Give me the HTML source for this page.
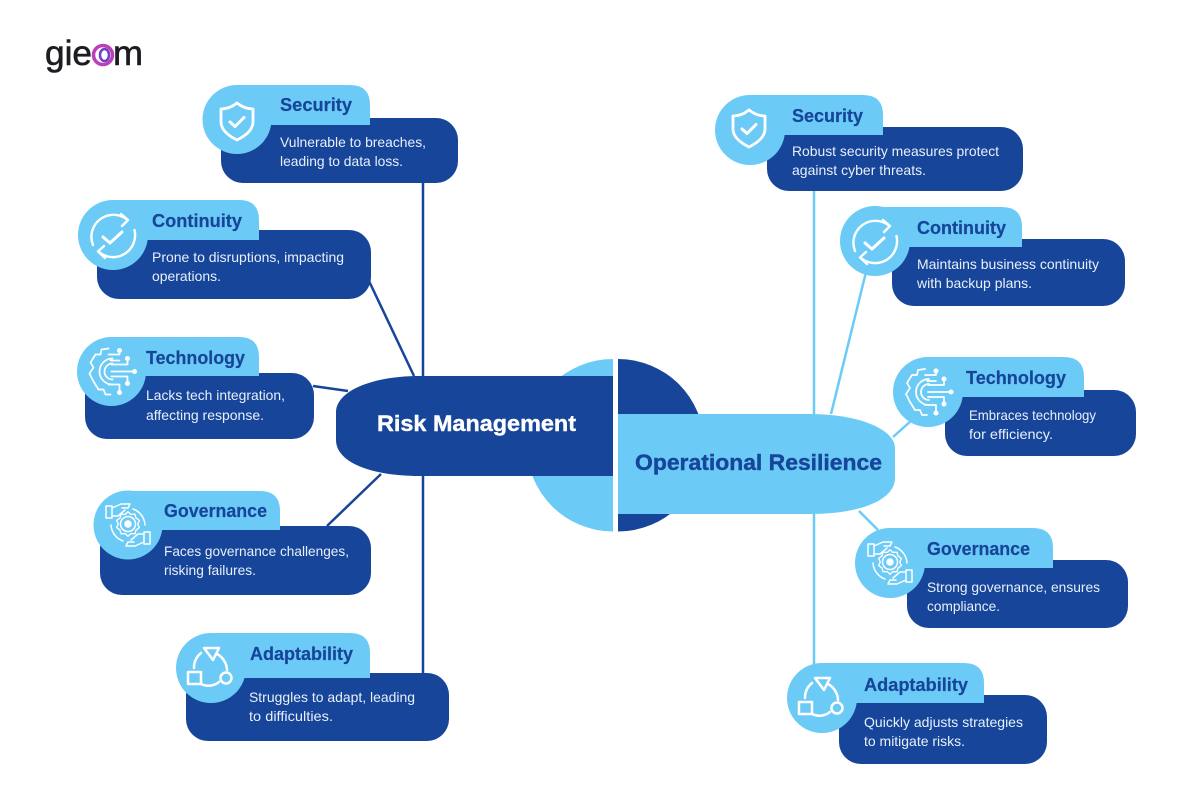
<!DOCTYPE html>
<html lang="en"><head><meta charset="utf-8"><title>Risk Management vs Operational Resilience</title>
<style>
html,body{margin:0;padding:0;background:#fff;width:1200px;height:799px;overflow:hidden}
svg{display:block}
text{font-family:"Liberation Sans",sans-serif}
.t{font-weight:700;font-size:18.500px;fill:#16459a;stroke:#16459a;stroke-width:.2px}
.d{font-size:14px;fill:#e8f0fa}
.i{fill:none;stroke:#fff;stroke-linecap:round;stroke-linejoin:round}
.b{fill:#16459a}.l{fill:#6ccbf6}
</style></head><body>
<svg width="1200" height="799" viewBox="0 0 1200 799" xmlns="http://www.w3.org/2000/svg">
<defs>
<g id="shield" class="i" stroke-width="2.800"><path d="M0-18 C5-14 11-12 16-12 V1 C16 9 8 15 0 19 C-8 15-16 9-16 1 V-12 C-11-12-5-14 0-18Z"/><path d="M-7 1 L-2 5.500 L7-3.500" stroke-width="3"/></g>
<g id="cycle" class="i" stroke-width="2.400"><path d="M-20 9 A22 22 0 0 1 14-16.500 M21.500-6 A22 22 0 0 1-14 16"/><path d="M8-22 L15-16 L9-10 M-8 22 L-15 15.500 L-9 10"/><path d="M-10 1 L-3 7 L9-4" stroke-width="3"/></g>
<g id="tech" class="i" stroke-width="1.700"><path d="M-3-23 L-10-22 L-11-17 L-16-17 L-21-9 L-18-4 L-22 2 L-18 10 L-13 18 L-8 18 L-6 23 L-1 23"/><path d="M1-13 A13 13 0 0 0 1 13 M1-8 A8 8 0 0 0 1 8"/><path d="M-3-17 H8 V-21 M-1-11 H8 M0-7 H16 V-13 M0 0 H23 M0 5 H16 V12 M-3 13 H8 V21"/><circle cx="8" cy="-21" r="1.700" fill="#fff"/><circle cx="16" cy="-13" r="1.700" fill="#fff"/><circle cx="23" cy="0" r="1.700" fill="#fff"/><circle cx="16" cy="12" r="1.700" fill="#fff"/><circle cx="8" cy="21" r="1.700" fill="#fff"/></g>
<g id="hand"><path d="M-22-19 H-16 V-7 H-22Z M-16-17 L-7-21 H2 L0-17 H-6 M-16-9 H-10 L-3-15"/><path d="M-17 0 A18 18 0 0 0-5 16"/></g>
<g id="gov" class="i" stroke-width="1.500"><circle cx="0" cy="-1" r="3" fill="#fff"/><circle cx="0" cy="-1" r="7.500"/><path transform="translate(0 -1) scale(.88)" d="M0-14 L3-11 L8-11 L9-7 L13-4 L11 0 L13 4 L9 7 L8 11 L3 11 L0 14 L-3 11 L-8 11 L-9 7 L-13 4 L-11 0 L-13-4 L-9-7 L-8-11 L-3-11Z"/><use href="#hand"/><use href="#hand" transform="rotate(180)"/></g>
<g id="adapt" class="i" stroke-width="2.500"><path d="M-7-20 H8 L2-8Z"/><rect x="-23" y="4" width="13" height="12"/><circle cx="15" cy="10" r="5.500"/><path d="M-10-15 A19 19 0 0 0-17 0 M6-14 A19 19 0 0 1 16 2 M-10 16 A17 17 0 0 0 8 14"/></g>
</defs>

<!-- connectors -->
<g fill="none" stroke="#16459a" stroke-width="2.500">
<path d="M423 183V376M423 476V673M369 281L414 376M313 386L348 391M381 474L327 526"/>
</g>
<g fill="none" stroke="#6ccbf6" stroke-width="2.500">
<path d="M814 191V414M814 514V665M866 272L831 414M912 420L893 437M859 511L878 530"/>
</g>

<!-- centre -->
<path class="l" d="M613 359 A86 86 0 0 0 613 531.500Z"/>
<path class="b" d="M618 359 A86 86 0 0 1 618 531.500Z"/>
<path class="b" d="M613 376H420C370 376 336 392 336 412V440C336 462 370 476 420 476H613Z"/>
<path class="l" d="M618 414H810C860 414 895 430 895 448V478C895 500 860 514 810 514H618Z"/>
<text x="377" y="431" font-size="22" font-weight="700" fill="#fff" stroke="#fff" stroke-width=".4" textLength="199" lengthAdjust="spacingAndGlyphs">Risk Management</text>
<text x="635" y="470" font-size="22" font-weight="700" fill="#16459a" stroke="#16459a" stroke-width=".4" textLength="247" lengthAdjust="spacingAndGlyphs">Operational Resilience</text>

<!-- LEFT Security -->
<rect class="b" x="221" y="118" width="237" height="65" rx="22"/>
<path class="l" d="M237 85H350Q370 85 370 105V125H237Z"/><circle class="l" cx="237" cy="119.500" r="34.500"/>
<use href="#shield" x="237" y="121"/>
<text class="t" x="280" y="111" textLength="72" lengthAdjust="spacingAndGlyphs">Security</text>
<text class="d" x="280" y="147" textLength="146" lengthAdjust="spacingAndGlyphs">Vulnerable to breaches,</text>
<text class="d" x="280" y="166" textLength="123" lengthAdjust="spacingAndGlyphs">leading to data loss.</text>

<!-- LEFT Continuity -->
<rect class="b" x="97" y="230" width="274" height="69" rx="22"/>
<path class="l" d="M113 200H239Q259 200 259 220V240H113Z"/><circle class="l" cx="113" cy="235" r="35"/>
<use href="#cycle" x="113" y="236"/>
<text class="t" x="152" y="227" textLength="90" lengthAdjust="spacingAndGlyphs">Continuity</text>
<text class="d" x="152" y="262" textLength="192" lengthAdjust="spacingAndGlyphs">Prone to disruptions, impacting</text>
<text class="d" x="152" y="281" textLength="69" lengthAdjust="spacingAndGlyphs">operations.</text>

<!-- LEFT Technology -->
<rect class="b" x="85" y="373" width="229" height="66" rx="22"/>
<path class="l" d="M111 337H239Q259 337 259 357V376H111Z"/><circle class="l" cx="111.500" cy="371.500" r="34.500"/>
<use href="#tech" x="111.500" y="371.500"/>
<text class="t" x="146" y="364" textLength="99" lengthAdjust="spacingAndGlyphs">Technology</text>
<text class="d" x="146" y="400" textLength="139" lengthAdjust="spacingAndGlyphs">Lacks tech integration,</text>
<text class="d" x="146" y="420" textLength="118" lengthAdjust="spacingAndGlyphs">affecting response.</text>

<!-- LEFT Governance -->
<rect class="b" x="100" y="526" width="271" height="69" rx="22"/>
<path class="l" d="M128 491H260Q280 491 280 511V530H128Z"/><circle class="l" cx="128" cy="525" r="34.500"/>
<use href="#gov" x="128" y="525"/>
<text class="t" x="164" y="517" textLength="103" lengthAdjust="spacingAndGlyphs">Governance</text>
<text class="d" x="164" y="556" textLength="185" lengthAdjust="spacingAndGlyphs">Faces governance challenges,</text>
<text class="d" x="164" y="575" textLength="92" lengthAdjust="spacingAndGlyphs">risking failures.</text>

<!-- LEFT Adaptability -->
<rect class="b" x="186" y="673" width="263" height="68" rx="22"/>
<path class="l" d="M211 633H350Q370 633 370 653V678H211Z"/><circle class="l" cx="211" cy="668" r="35"/>
<use href="#adapt" x="211" y="668"/>
<text class="t" x="250" y="660" textLength="103" lengthAdjust="spacingAndGlyphs">Adaptability</text>
<text class="d" x="249" y="702" textLength="166" lengthAdjust="spacingAndGlyphs">Struggles to adapt, leading</text>
<text class="d" x="249" y="721" textLength="84" lengthAdjust="spacingAndGlyphs">to difficulties.</text>

<!-- RIGHT Security -->
<rect class="b" x="767" y="127" width="256" height="64" rx="22"/>
<path class="l" d="M750 95H863Q883 95 883 115V135H750Z"/><circle class="l" cx="750" cy="130" r="35"/>
<use href="#shield" x="749" y="128"/>
<text class="t" x="792" y="122" textLength="71" lengthAdjust="spacingAndGlyphs">Security</text>
<text class="d" x="792" y="156" textLength="207" lengthAdjust="spacingAndGlyphs">Robust security measures protect</text>
<text class="d" x="792" y="175" textLength="134" lengthAdjust="spacingAndGlyphs">against cyber threats.</text>

<!-- RIGHT Continuity -->
<rect class="b" x="892" y="239" width="233" height="67" rx="22"/>
<path class="l" d="M875 207H1002Q1022 207 1022 227V247H875Z"/><circle class="l" cx="875" cy="241" r="35"/>
<use href="#cycle" x="875" y="242"/>
<text class="t" x="917" y="234" textLength="89" lengthAdjust="spacingAndGlyphs">Continuity</text>
<text class="d" x="917" y="269" textLength="182" lengthAdjust="spacingAndGlyphs">Maintains business continuity</text>
<text class="d" x="917" y="288" textLength="115" lengthAdjust="spacingAndGlyphs">with backup plans.</text>

<!-- RIGHT Technology -->
<rect class="b" x="945" y="390" width="191" height="66" rx="22"/>
<path class="l" d="M928 357H1064Q1084 357 1084 377V397H928Z"/><circle class="l" cx="928" cy="392" r="35"/>
<use href="#tech" x="928" y="392"/>
<text class="t" x="966" y="384" textLength="100" lengthAdjust="spacingAndGlyphs">Technology</text>
<text class="d" x="969" y="420" textLength="127" lengthAdjust="spacingAndGlyphs">Embraces technology</text>
<text class="d" x="969" y="439" textLength="84" lengthAdjust="spacingAndGlyphs">for efficiency.</text>

<!-- RIGHT Governance -->
<rect class="b" x="907" y="560" width="221" height="68" rx="22"/>
<path class="l" d="M890 528H1033Q1053 528 1053 548V568H890Z"/><circle class="l" cx="890" cy="563" r="35"/>
<use href="#gov" x="890" y="563"/>
<text class="t" x="927" y="555" textLength="103" lengthAdjust="spacingAndGlyphs">Governance</text>
<text class="d" x="927" y="592" textLength="173" lengthAdjust="spacingAndGlyphs">Strong governance, ensures</text>
<text class="d" x="927" y="611" textLength="73" lengthAdjust="spacingAndGlyphs">compliance.</text>

<!-- RIGHT Adaptability -->
<rect class="b" x="839" y="695" width="208" height="69" rx="22"/>
<path class="l" d="M822 663H964Q984 663 984 683V703H822Z"/><circle class="l" cx="822" cy="698" r="35"/>
<use href="#adapt" x="822" y="698"/>
<text class="t" x="864" y="691" textLength="104" lengthAdjust="spacingAndGlyphs">Adaptability</text>
<text class="d" x="864" y="727" textLength="159" lengthAdjust="spacingAndGlyphs">Quickly adjusts strategies</text>
<text class="d" x="864" y="746" textLength="101" lengthAdjust="spacingAndGlyphs">to mitigate risks.</text>

<!-- logo -->
<text x="45" y="65" font-size="35" fill="#1c1c22" stroke="#1c1c22" stroke-width=".6" textLength="47" lengthAdjust="spacingAndGlyphs">gie</text>
<text x="113" y="65" font-size="35" fill="#1c1c22" stroke="#1c1c22" stroke-width=".6" textLength="30" lengthAdjust="spacingAndGlyphs">m</text>
<g fill="none"><circle cx="103" cy="55" r="9.500" fill="#fff" stroke="#bb3fb8" stroke-width="3.500"/><ellipse cx="104.500" cy="55" rx="4.500" ry="6" stroke="#6f3fc8" stroke-width="2.500"/></g>
</svg>
</body></html>
